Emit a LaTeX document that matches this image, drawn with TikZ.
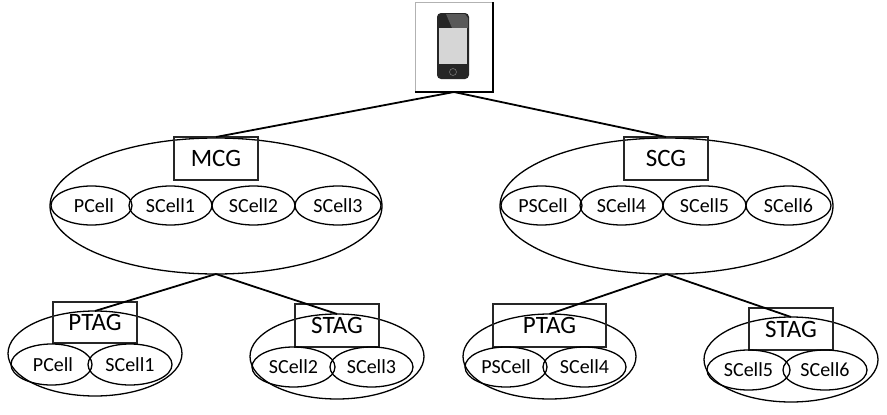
\documentclass[tikz,border=0pt]{standalone}
\usepackage{fontspec}
\setmainfont{Carlito}
\usetikzlibrary{shapes.geometric}
\tikzset{
  x=1pt,y=-1pt,
  every node/.style={inner sep=0pt,outer sep=0pt},
  outer/.style={draw=black,line width=1.3pt,ellipse},
  cell/.style={draw=black,line width=1.3pt,ellipse,font=\fontsize{20}{22}\selectfont},
  tagbox/.style={draw=black!85,line width=1.3pt,rectangle,font=\fontsize{25}{27}\selectfont},
  link/.style={draw=black,line width=1.8pt}
}
\begin{document}
\begin{tikzpicture}
\useasboundingbox (0,0) rectangle (887,415);
% handset
\node[rectangle,fill=white,draw=black!30,line width=1pt,minimum width=78pt,minimum height=90pt] (phone) at (454,47) {};
\draw[black,line width=1.4pt] (phone.north east) -- (phone.south east) -- (phone.south west);
\node[rectangle,rounded corners=4pt,fill=black!85,minimum width=32pt,minimum height=66pt] (body) at (453,46) {};
\fill[black!65] (446,14) -- (465,14) -- (468,18) -- (468,28) -- (452,28) -- cycle;
\node[rectangle,fill=black!16,minimum width=28pt,minimum height=36pt] (screen) at (453,46) {};
\node[circle,draw=black!55,line width=.6pt,minimum size=7pt] (homekey) at (453,72) {};
% MCG
\node[outer,minimum width=332pt,minimum height=136pt] (mcgE) at (216,206) {};
\node[tagbox,minimum width=84pt,minimum height=43pt] (mcgB) at (216,158.5) {MCG};
\node[cell,minimum width=81pt,minimum height=39pt] (m1) at (91.5,205.5) {\hspace*{5pt}PCell};
\node[cell,minimum width=83pt,minimum height=39pt] (m2) at (170.5,205.5) {SCell1};
\node[cell,minimum width=83pt,minimum height=39pt] (m3) at (253.5,205.5) {SCell2};
\node[cell,minimum width=86pt,minimum height=39pt] (m4) at (338,205.5) {SCell3};
% SCG
\node[outer,minimum width=333pt,minimum height=136pt] (scgE) at (666.5,206) {};
\node[tagbox,minimum width=84pt,minimum height=43pt] (scgB) at (666,158.5) {SCG};
\node[cell,minimum width=81pt,minimum height=39pt] (s1) at (541.5,205.5) {\hspace*{3pt}PSCell};
\node[cell,minimum width=83pt,minimum height=39pt] (s2) at (621.5,205.5) {SCell4};
\node[cell,minimum width=83pt,minimum height=39pt] (s3) at (704.5,205.5) {SCell5};
\node[cell,minimum width=85pt,minimum height=39pt] (s4) at (788.5,205.5) {SCell6};
% MCG PTAG
\node[outer,minimum width=174pt,minimum height=85pt] (p1E) at (95,353.5) {};
\node[tagbox,minimum width=84pt,minimum height=41pt] (p1B) at (95,322.5) {PTAG};
\node[cell,minimum width=81pt,minimum height=41pt] (p1a) at (51.5,364.5) {\hspace*{3pt}PCell};
\node[cell,minimum width=84pt,minimum height=41pt] (p1b) at (130,364.5) {SCell1};
% MCG STAG
\node[outer,minimum width=174pt,minimum height=85pt] (q1E) at (337,356.5) {};
\node[tagbox,minimum width=84pt,minimum height=43pt] (q1B) at (337,325.5) {STAG};
\node[cell,minimum width=83pt,minimum height=40pt] (q1a) at (293.5,367) {SCell2};
\node[cell,minimum width=83pt,minimum height=40pt] (q1b) at (371.5,367) {SCell3};
% SCG PTAG
\node[outer,minimum width=173pt,minimum height=85pt] (p2E) at (549.5,356.5) {};
\node[tagbox,minimum width=113pt,minimum height=43pt] (p2B) at (549.5,325.5) {PTAG};
\node[cell,minimum width=82pt,minimum height=40pt] (p2a) at (506,367) {PSCell};
\node[cell,minimum width=83pt,minimum height=40pt] (p2b) at (584.5,367) {SCell4};
% SCG STAG
\node[outer,minimum width=174pt,minimum height=85pt] (q2E) at (791,359.5) {};
\node[tagbox,minimum width=84pt,minimum height=42pt] (q2B) at (791,329) {STAG};
\node[cell,minimum width=83pt,minimum height=40pt] (q2a) at (748.5,370) {SCell5};
\node[cell,minimum width=84pt,minimum height=40pt] (q2b) at (825,370) {SCell6};
% connectors
\draw[link] (phone.south) -- (mcgB.north);
\draw[link] (phone.south) -- (scgB.north);
\draw[link] (mcgE.south) -- (p1E.north);
\draw[link] (mcgE.south) -- (q1E.north);
\draw[link] (scgE.south) -- (p2E.north);
\draw[link] (scgE.south) -- (q2E.north);
\end{tikzpicture}
\end{document}
